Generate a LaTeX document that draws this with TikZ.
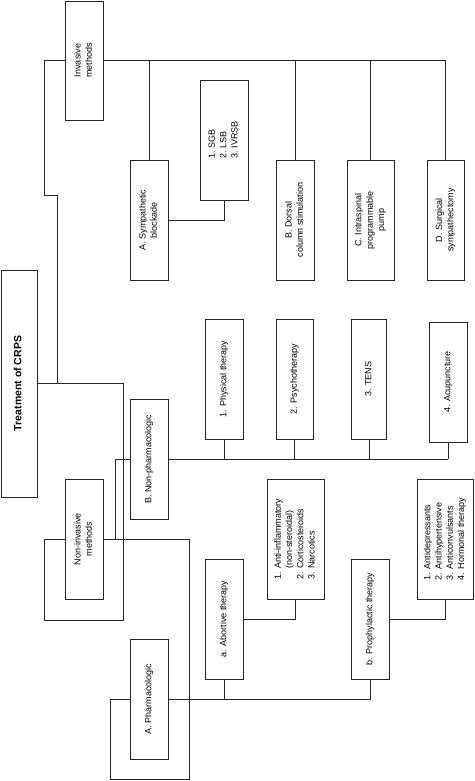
\documentclass[tikz,border=0pt]{standalone}
\usepackage{fontspec}
\setmainfont{Liberation Sans}
\newcommand\rtxt[1]{\rotatebox{90}{\begin{tabular}{@{}c@{}}#1\end{tabular}}}
\newcommand\rtxl[1]{\rotatebox{90}{\begin{tabular}{@{}l@{}}#1\end{tabular}}}
\begin{document}
\begin{tikzpicture}[x=1pt,y=-1pt,
  box/.style={draw=black!85, line width=0.9pt, inner sep=0pt, font=\fontsize{9}{11.3}\selectfont},
  ln/.style={draw=black!85, line width=0.8pt}]
\useasboundingbox (0,0) rectangle (474,781);
% boxes
\node[box, minimum width=36, minimum height=227] (crps) at (19,383.5)
  {\rtxt{\fontsize{10.5}{12}\selectfont\bfseries Treatment of CRPS}};
\node[box, minimum width=38, minimum height=119] (inv) at (84,60.5) {\rtxt{Invasive\\methods}};
\node[box, minimum width=38, minimum height=120] (symp) at (149,220) {\rtxt{A. Sympathetic\\blockade}};
\node[box, minimum width=48, minimum height=120] (sgb) at (224,140) {\rtxl{1. SGB\\2. LSB\\3. IVRSB}};
\node[box, minimum width=38, minimum height=120] (dorsal) at (295,220) {\rtxt{B. Dorsal\\column stimulation}};
\node[box, minimum width=47, minimum height=120] (intra) at (370.5,220) {\rtxt{C. Intraspinal\\programmable\\pump}};
\node[box, minimum width=37, minimum height=120] (surg) at (445.5,220) {\rtxt{D. Surgical\\sympathectomy}};
\node[box, minimum width=38, minimum height=120] (phys) at (224,379) {\rtxt{1. Physical therapy}};
\node[box, minimum width=37, minimum height=120] (psych) at (294.5,379) {\rtxt{2. Psychotherapy}};
\node[box, minimum width=35, minimum height=120] (tens) at (369,379) {\rtxt{3. TENS}};
\node[box, minimum width=38, minimum height=120] (acu) at (448,382) {\rtxt{4. Acupuncture}};
\node[box, minimum width=38, minimum height=120] (nonph) at (149,459) {\rtxt{B. Non-pharmacologic}};
\node[box, minimum width=38, minimum height=120] (noninv) at (84,539) {\rtxt{Non-invasive\\methods}};
\node[box, minimum width=38, minimum height=120] (pharm) at (149,699) {\rtxt{A. Pharmacologic}};
\node[box, minimum width=38, minimum height=120] (abort) at (224,619) {\rtxt{a. Abortive therapy}};
\node[box, minimum width=57, minimum height=120] (list1) at (295.5,539)
  {\rtxl{1. Anti-inflammatory\\\phantom{1. }(non-steroidal)\\2. Corticosteroids\\3. Narcotics}};
\node[box, minimum width=38, minimum height=120] (proph) at (370,619) {\rtxt{b. Prophylactic therapy}};
\node[box, minimum width=56, minimum height=120] (list2) at (445,539)
  {\rtxl{1. Antidepressants\\2. Antihypertensive\\3. Anticonvulsants\\4. Hormonal therapy}};
% junction coordinates
\coordinate (ja) at (57,383.5);
\coordinate (jb) at (123,383.5);
\coordinate (jc) at (115,539);
\coordinate (jd) at (189,539);
% connectors
\draw[ln] (crps.east) -- (jb) -- (123,620) -- (44,620) -- (44,539) -- (noninv.west);
\draw[ln] (ja) -- (57,195) -- (44,195) -- (44,60.5) -- (inv.west);
\draw[ln] (inv.east) -- (surg.north |- inv.east);
\foreach \n in {symp,dorsal,intra,surg} \draw[ln] (\n.north) -- (\n.north |- inv.east);
\draw[ln] (symp.east) -| (sgb.south);
\draw[ln] (noninv.east) -- (jd) -- (189,779) -- (110,779) -- (110,699) -- (pharm.west);
\draw[ln] (jc) -- (115,459) -- (nonph.west);
\draw[ln] (nonph.east) -- (acu.south |- nonph.east);
\foreach \n in {phys,psych,tens,acu} \draw[ln] (\n.south) -- (\n.south |- nonph.east);
\draw[ln] (pharm.east) -- (proph.south |- pharm.east) -- (proph.south);
\draw[ln] (abort.south) -- (abort.south |- pharm.east);
\draw[ln] (abort.east) -| (list1.south);
\draw[ln] (proph.east) -| (list2.south);
\end{tikzpicture}
\end{document}
